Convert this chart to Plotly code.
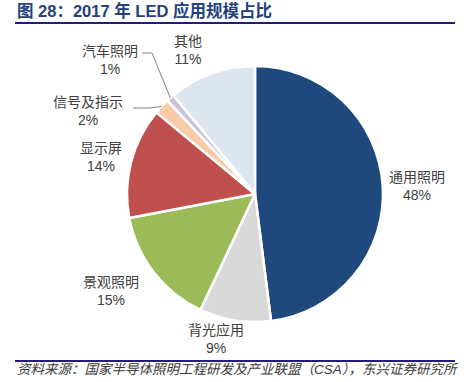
import math
import plotly.graph_objects as go

# ---- data ----
categories = ["通用照明", "背光应用", "景观照明", "显示屏", "信号及指示", "汽车照明", "其他"]
shares = [48, 9, 15, 14, 2, 1, 11]
colors = ["#1f497d", "#d9d9d9", "#9bbb59", "#c0504d", "#f9cba7", "#ccc1da", "#dce6f1"]
title_text = "图 28：2017 年 LED 应用规模占比"
source_text = "资料来源：国家半导体照明工程研发及产业联盟（CSA），东兴证券研究所"

# ---- layout constants (pixels) ----
W, H = 474, 382
CX, CY, R = 255, 194, 128
label_pos = [(417, 186), (216, 339), (111, 291), (101, 157), (88, 111), (110, 60), (188, 50)]
# leader lines: index -> points after slice edge
leaders = {4: [(150, 108), (133, 108)], 5: [(152, 53), (142, 53)]}

FONT = "Liberation Sans, Arial, Noto Sans CJK SC, sans-serif"

def px(x):
    return x / W

def py(y):
    return 1 - y / H

fig = go.Figure()
fig.add_trace(go.Pie(
    labels=categories,
    values=shares,
    sort=False,
    direction="clockwise",
    rotation=0,
    marker=dict(colors=colors, line=dict(color="white", width=2.5)),
    textinfo="none",
    hoverinfo="label+percent",
    showlegend=False,
    domain=dict(x=[px(CX - R), px(CX + R)], y=[py(CY + R), py(CY - R)]),
))

total = sum(shares)
cum = 0
annotations = []
shapes = []
for i, (cat, v) in enumerate(zip(categories, shares)):
    mid = (cum + v / 2) / total * 2 * math.pi
    cum += v
    lx, lyy = label_pos[i]
    annotations.append(dict(
        x=px(lx), y=py(lyy), xref="paper", yref="paper",
        text=f"{cat}<br>{round(v / total * 100)}%",
        showarrow=False, xanchor="center", yanchor="middle",
        font=dict(family=FONT, size=14, color="#404040"),
    ))
    if i in leaders:
        sx = CX + R * math.sin(mid)
        sy = CY - R * math.cos(mid)
        pts = [(sx, sy)] + leaders[i]
        path = "M " + " L ".join(f"{px(a)},{py(b)}" for a, b in pts)
        shapes.append(dict(type="path", path=path, xref="paper", yref="paper",
                           line=dict(color="#808080", width=1)))

# title
annotations.append(dict(
    x=px(15), y=py(11), xref="paper", yref="paper", xanchor="left", yanchor="middle",
    text=f"<b>{title_text}</b>", showarrow=False,
    font=dict(family=FONT, size=16.5, color="#24417c"),
))
# source
annotations.append(dict(
    x=px(15), y=py(369), xref="paper", yref="paper", xanchor="left", yanchor="middle",
    text=f"<i>{source_text}</i>", showarrow=False,
    font=dict(family=FONT, size=13.5, color="#3a3a3a"),
))
# rules
for yy in (23, 361):
    shapes.append(dict(type="line", xref="paper", yref="paper",
                       x0=px(15), x1=px(455), y0=py(yy), y1=py(yy),
                       line=dict(color="#1f1f7a", width=2)))

fig.update_layout(
    width=W, height=H,
    margin=dict(l=0, r=0, t=0, b=0),
    paper_bgcolor="white", plot_bgcolor="white",
    annotations=annotations, shapes=shapes,
)

fig.write_html(
    "out.html",
    config={"displayModeBar": False},
    post_script="document.body.style.margin='0';document.body.style.overflow='hidden';",
)
